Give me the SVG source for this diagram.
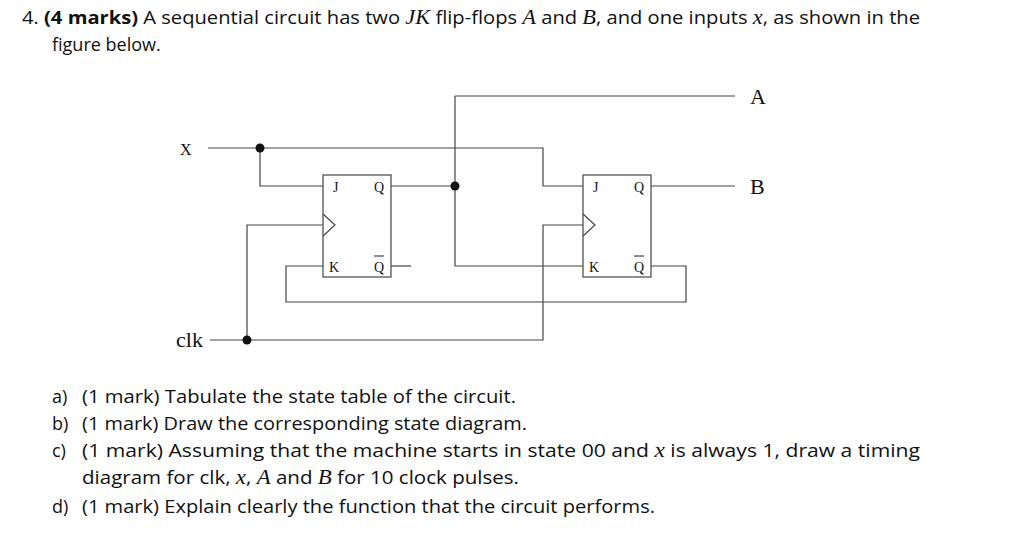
<svg xmlns="http://www.w3.org/2000/svg" width="1024" height="547" viewBox="0 0 1024 547">
<style>
.t{font-family:"Open Sans","Noto Sans",sans-serif;font-size:18px;fill:#111}
.m{font-family:"Liberation Serif",serif;font-style:italic;font-size:20px}
.s{font-family:"Liberation Serif",serif;fill:#111}
.w{fill:none;stroke:#444;stroke-width:1.2}
.b{fill:#fff;stroke:#444;stroke-width:1.2}
</style>
<rect width="1024" height="547" fill="#fff"/>
<text class="t" x="22" y="24" textLength="898" lengthAdjust="spacingAndGlyphs">4. <tspan font-weight="bold">(4 marks)</tspan> A sequential circuit has two <tspan class="m">JK</tspan> flip-flops <tspan class="m">A</tspan> and <tspan class="m">B</tspan>, and one inputs <tspan class="m">x</tspan>, as shown in the</text>
<text class="t" x="52" y="51">figure below.</text>
<g id="connectors" class="w">
<path d="M208 148H543V186H583"/>
<path d="M260 148V186H323"/>
<path d="M391 186H455"/>
<path d="M455 96H735M455 96V266H583"/>
<path d="M651 186H735"/>
<path d="M651 266H686V302H286V266H323"/>
<path d="M391 266H411"/>
<path d="M210 340H543V225H583"/>
<path d="M247 340V225H323"/>
</g>
<g id="dots" fill="#111">
<circle cx="260" cy="148" r="4.5"/><circle cx="455" cy="186" r="4.5"/><circle cx="247" cy="340" r="4.5"/>
</g>
<g id="ffA">
<rect class="b" x="323" y="175" width="68" height="102"/>
<path class="w" d="M323 214L335 225L323 236"/>
<text class="s" x="333" y="192" font-size="14">J</text>
<text class="s" x="374" y="192" font-size="14">Q</text>
<text class="s" x="329" y="272" font-size="14">K</text>
<text class="s" x="374" y="272" font-size="14">Q</text>
<path class="w" d="M374 256H384"/>
</g>
<g id="ffB">
<rect class="b" x="583" y="175" width="68" height="102"/>
<path class="w" d="M583 214L595 225L583 236"/>
<text class="s" x="593" y="192" font-size="14">J</text>
<text class="s" x="634" y="192" font-size="14">Q</text>
<text class="s" x="589" y="272" font-size="14">K</text>
<text class="s" x="634" y="272" font-size="14">Q</text>
<path class="w" d="M634 256H644"/>
</g>
<g id="labels" class="s">
<text x="180" y="155" font-size="16">X</text>
<text x="750" y="104" font-size="22">A</text>
<text x="750" y="194" font-size="22">B</text>
<text x="176" y="347" font-size="22">clk</text>
</g>
<g id="questions" class="t">
<text x="52" y="403">a)</text>
<text x="82" y="403" textLength="434" lengthAdjust="spacingAndGlyphs">(1 mark) Tabulate the state table of the circuit.</text>
<text x="52" y="430">b)</text>
<text x="82" y="430" textLength="445" lengthAdjust="spacingAndGlyphs">(1 mark) Draw the corresponding state diagram.</text>
<text x="52" y="457">c)</text>
<text x="82" y="457" textLength="838" lengthAdjust="spacingAndGlyphs">(1 mark) Assuming that the machine starts in state 00 and <tspan class="m">x</tspan> is always 1, draw a timing</text>
<text x="82" y="484" textLength="437" lengthAdjust="spacingAndGlyphs">diagram for clk, <tspan class="m">x</tspan>, <tspan class="m">A</tspan> and <tspan class="m">B</tspan> for 10 clock pulses.</text>
<text x="52" y="513">d)</text>
<text x="82" y="513" textLength="573" lengthAdjust="spacingAndGlyphs">(1 mark) Explain clearly the function that the circuit performs.</text>
</g>
</svg>
